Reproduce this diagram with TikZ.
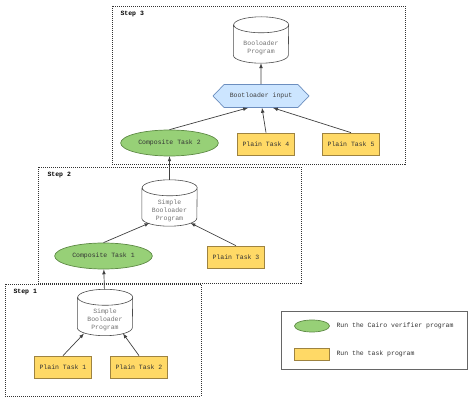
\documentclass[tikz,border=0pt]{standalone}
\usepackage{fontspec}
\setmonofont{Liberation Mono}
\usetikzlibrary{shapes.geometric,shapes.symbols,positioning,calc}
\definecolor{taskfill}{HTML}{FFD966}
\definecolor{taskdraw}{HTML}{9E8340}
\definecolor{cairofill}{HTML}{97D077}
\definecolor{cairodraw}{HTML}{5E8A45}
\definecolor{inputfill}{HTML}{CCE5FF}
\definecolor{inputdraw}{HTML}{6C8EBF}
\begin{document}
\begin{tikzpicture}[
		x=1pt,y=-1pt,
		font=\ttfamily\fontsize{6.5}{8}\selectfont,
		stepbox/.style={
			draw=black!80,
			line width=0.6pt,
			dash pattern=on 1pt off 1pt,
		},
		steplabel/.style={
			anchor=west,
			font=\ttfamily\bfseries\fontsize{6.5}{8}\selectfont
		},
		plain/.style={
			draw=taskdraw,
			fill=taskfill,
			line width=0.7pt,
			minimum width=57pt,
			minimum height=22pt,
			text=black!80
		},
		composite/.style={
			ellipse,
			draw=cairodraw,
			fill=cairofill,
			line width=0.7pt,
			minimum width=85pt,
			minimum height=26pt,
			text=black!80
		},
		loader/.style={
			inner sep=0pt,
			minimum width=55pt,
			minimum height=46pt,
			label={[align=center,text=black!55,yshift=-7.5pt]center:#1}
		},
		loaderline/.style={
			draw=black!70,
			line width=0.6pt
		},
		input/.style={
			signal,
			signal to=west and east,
			signal pointer angle=92,
			draw=inputdraw,
			fill=inputfill,
			line width=0.7pt,
			minimum width=96pt,
			minimum height=23pt,
			text=black!75
		},
		link/.style={
			->,
			draw=black!75,
			line width=0.7pt
		},
		>=latex
		]
		\useasboundingbox (0,0) rectangle (474,403);
		% step boxes
		\draw[stepbox] (112,6) rectangle (405,164);
		\draw[stepbox] (38,167) rectangle (301,283);
		\draw[stepbox] (5,284) rectangle (201,396);
		\node[steplabel] (s3) at (117,14) {Step 3};
		\node[steplabel] (s2) at (44,175) {Step 2};
		\node[steplabel] (s1) at (10,292) {Step 1};
		% step 1
		\node[loader={Simple\\Booloader\\Program}] (sbl1) at (105,312.5) {};
		\node[plain] (pt1) at (63,367) {Plain Task 1};
		\node[plain] (pt2) at (139,367) {Plain Task 2};
		% step 2
		\node[loader={Simple\\Booloader\\Program}] (sbl2) at (169.5,203) {};
		\node[composite] (ct1) at (103.5,256) {Composite Task 1};
		\node[plain] (pt3) at (236,257) {Plain Task 3};
		% step 3
		\node[loader={Booloader\\Program}] (bl3) at (261,40) {};
		\node[input] (hex) at (261,96) {Bootloader input};
		\node[composite] (ct2) at (169.5,143) {Composite Task 2};
		\node[plain] (pt4) at (266,144) {Plain Task 4};
		\node[plain] (pt5) at (351,144) {Plain Task 5};
		% cylinders
		\foreach \n in {sbl1,sbl2,bl3}
			\draw[loaderline] ([yshift=-8pt]\n.north west) -- ([yshift=8pt]\n.south west)
				arc (180:360:27.5pt and 8pt) -- ([yshift=-8pt]\n.north east)
				arc (0:180:27.5pt and 8pt) arc (180:360:27.5pt and 8pt);
		% connectors
		\draw[link] (pt1.north) -- ($(sbl1)+(-21,21)$);
		\draw[link] (pt2.north) -- ($(sbl1)+(18,21)$);
		\draw[link] (sbl1) -- (ct1);
		\draw[link] (ct1.north) -- ($(sbl2)+(-20,20)$);
		\draw[link] (pt3.north) -- ($(sbl2)+(21,20)$);
		\draw[link] (sbl2) -- (ct2);
		\draw[link] (ct2.north) -- ([xshift=-13pt]hex.south);
		\draw[link] (pt4.north) -- ([xshift=1pt]hex.south);
		\draw[link] (pt5.north) -- ([xshift=12pt]hex.south);
		\draw[link] (hex) -- (bl3);
		% legend
		\draw[draw=black!60, line width=0.6pt] (281,311) rectangle (467,369);
		\node[composite, minimum width=35pt, minimum height=12pt] (lgc) at (312,326) {};
		\node[plain, minimum width=35pt, minimum height=12pt] (lgp) at (312,354) {};
		\node[anchor=west, text=black!80] (lgct) at (333,326) {Run the Cairo verifier program};
		\node[anchor=west, text=black!80] (lgpt) at (333,354) {Run the task program};
\end{tikzpicture}
\end{document}
